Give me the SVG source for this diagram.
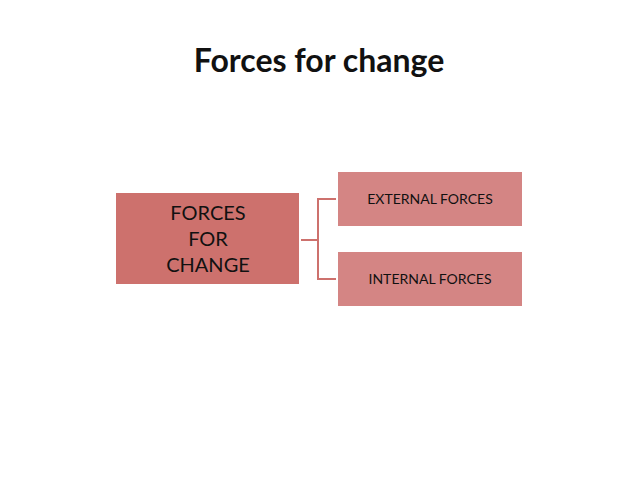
<svg xmlns="http://www.w3.org/2000/svg" width="638" height="478" viewBox="0 0 638 478">
<style>
text{font-family:Lato,"Open Sans","Liberation Sans",sans-serif;fill:#111;text-anchor:middle}
.main{fill:#cd716d}.sub{fill:#d48584}
.c{stroke:#cd716d;stroke-width:2;fill:none}
</style>
<rect width="638" height="478" fill="#fff"/>
<text x="319" y="72" font-size="32" font-weight="bold">Forces for change</text>
<g id="connectors">
<path class="c" d="M301 240H318M336 199H318V279H336"/>
</g>
<g id="n-main"><rect class="main" x="116" y="193" width="183" height="91"/>
<text x="208" y="220" font-size="20">FORCES</text><text x="208" y="246" font-size="20">FOR</text><text x="208" y="272" font-size="20">CHANGE</text></g>
<g id="n-ext"><rect class="sub" x="338" y="172" width="184" height="54"/>
<text x="430" y="204" font-size="14">EXTERNAL FORCES</text></g>
<g id="n-int"><rect class="sub" x="338" y="252" width="184" height="54"/>
<text x="430" y="284" font-size="14">INTERNAL FORCES</text></g>
</svg>
